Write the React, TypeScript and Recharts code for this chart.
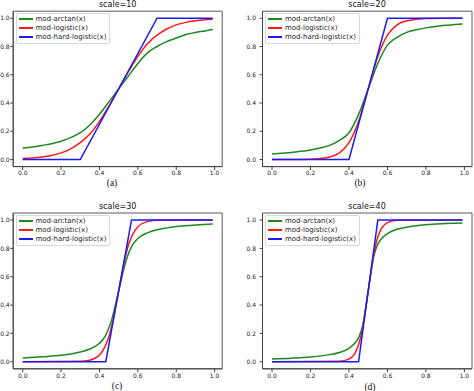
import { LineChart, Line, XAxis, YAxis, ReferenceArea } from 'recharts';

type Pt = [number, number];

// values, one set per panel (scale = 10, 20, 30, 40)
const arctan10: Pt[] = [[0, 0.08], [0.05, 0.088], [0.1, 0.1], [0.15, 0.112], [0.2, 0.13], [0.25, 0.155], [0.3, 0.19], [0.35, 0.245], [0.4, 0.32], [0.45, 0.41], [0.5, 0.5], [0.55, 0.59], [0.6, 0.68], [0.65, 0.755], [0.7, 0.8], [0.75, 0.835], [0.8, 0.86], [0.85, 0.885], [0.9, 0.9], [0.95, 0.91], [0.99, 0.92]];
const logistic10: Pt[] = [[0, 0.007], [0.05, 0.011], [0.1, 0.018], [0.15, 0.029], [0.2, 0.047], [0.25, 0.076], [0.3, 0.12], [0.35, 0.18], [0.4, 0.27], [0.45, 0.38], [0.5, 0.5], [0.55, 0.62], [0.6, 0.73], [0.65, 0.82], [0.7, 0.88], [0.75, 0.924], [0.8, 0.953], [0.85, 0.971], [0.9, 0.982], [0.95, 0.989], [0.99, 0.993]];
const hard10: Pt[] = [[0, 0], [0.3, 0], [0.7, 1], [0.99, 1]];

const arctan20: Pt[] = [[0, 0.04], [0.05, 0.045], [0.1, 0.05], [0.15, 0.058], [0.2, 0.068], [0.25, 0.082], [0.3, 0.1], [0.35, 0.135], [0.4, 0.19], [0.45, 0.32], [0.5, 0.5], [0.55, 0.68], [0.6, 0.81], [0.65, 0.865], [0.7, 0.9], [0.75, 0.918], [0.8, 0.932], [0.85, 0.942], [0.9, 0.95], [0.95, 0.955], [0.99, 0.96]];
const logistic20: Pt[] = [[0, 0], [0.1, 0.0003], [0.2, 0.002], [0.25, 0.007], [0.3, 0.018], [0.35, 0.047], [0.4, 0.12], [0.45, 0.27], [0.5, 0.5], [0.55, 0.73], [0.6, 0.88], [0.65, 0.953], [0.7, 0.982], [0.75, 0.993], [0.8, 0.998], [0.9, 1], [0.99, 1]];
const hard20: Pt[] = [[0, 0], [0.4, 0], [0.6, 1], [0.99, 1]];

const arctan30: Pt[] = [[0, 0.027], [0.1, 0.035], [0.2, 0.045], [0.25, 0.055], [0.3, 0.068], [0.35, 0.09], [0.4, 0.13], [0.43, 0.18], [0.46, 0.28], [0.5, 0.5], [0.54, 0.72], [0.57, 0.82], [0.6, 0.87], [0.65, 0.91], [0.7, 0.932], [0.75, 0.945], [0.8, 0.955], [0.9, 0.965], [0.99, 0.973]];
const logistic30: Pt[] = [[0, 0], [0.3, 0.003], [0.35, 0.011], [0.4, 0.047], [0.43, 0.11], [0.45, 0.18], [0.47, 0.29], [0.5, 0.5], [0.53, 0.71], [0.55, 0.82], [0.57, 0.89], [0.6, 0.953], [0.65, 0.989], [0.7, 0.998], [0.99, 1]];
const hard30: Pt[] = [[0, 0], [0.433, 0], [0.567, 1], [0.99, 1]];

const arctan40: Pt[] = [[0, 0.02], [0.1, 0.025], [0.2, 0.033], [0.3, 0.05], [0.35, 0.065], [0.4, 0.095], [0.43, 0.13], [0.45, 0.17], [0.47, 0.25], [0.5, 0.5], [0.53, 0.75], [0.55, 0.83], [0.57, 0.87], [0.6, 0.905], [0.65, 0.935], [0.7, 0.95], [0.8, 0.967], [0.9, 0.975], [0.99, 0.98]];
const logistic40: Pt[] = [[0, 0], [0.35, 0.003], [0.4, 0.018], [0.43, 0.057], [0.45, 0.12], [0.47, 0.23], [0.5, 0.5], [0.53, 0.77], [0.55, 0.88], [0.57, 0.943], [0.6, 0.982], [0.65, 0.998], [0.99, 1]];
const hard40: Pt[] = [[0, 0], [0.45, 0], [0.55, 1], [0.99, 1]];

const ticks = [0, 0.2, 0.4, 0.6, 0.8, 1.0];
const seriesNames = ['mod-arctan(x)', 'mod-logistic(x)', 'mod-hard-logistic(x)'];
const seriesColors = ['#1a8a1a', '#ff1a1a', '#1a1aff'];

const toRows = (pts: Pt[]) => pts.map(([x, y]) => ({ x, y }));

const FONT = 'DejaVu Sans, sans-serif';

interface PanelProps {
  left: number;
  top: number;
  width: number;
  height: number;
  margin: { top: number; right: number; bottom: number; left: number };
  yWidth: number;
  yTickMargin: number;
  title: string;
  titleAt: [number, number];
  caption: string;
  captionAt: [number, number];
  legendAt: [number, number];
  curves: Pt[][];
}

function Panel(p: PanelProps) {
  return (
    <div style={{ position: 'absolute', left: p.left, top: p.top, width: p.width, height: p.height }}>
      <LineChart width={p.width} height={p.height} margin={p.margin}>
        <XAxis
          type="number"
          dataKey="x"
          domain={[-0.0495, 1.0395]}
          ticks={ticks}
          allowDataOverflow
          tickFormatter={(v: number) => v.toFixed(1)}
          tickSize={3.5}
          tickMargin={1}
          height={20}
          stroke="#444"
          tick={{ fontSize: 6, fill: '#222', fontFamily: FONT }}
        />
        <YAxis
          type="number"
          dataKey="y"
          domain={[-0.05, 1.05]}
          ticks={ticks}
          allowDataOverflow
          tickFormatter={(v: number) => v.toFixed(1)}
          tickSize={3}
          tickMargin={p.yTickMargin}
          width={p.yWidth}
          stroke="#444"
          tick={{ fontSize: 6, fill: '#222', fontFamily: FONT }}
        />
        <ReferenceArea x1={-0.0495} x2={1.0395} y1={-0.05} y2={1.05} fill="none" stroke="#5a5a5a" strokeWidth={1} ifOverflow="visible" />
        {p.curves.map((c, i) => (
          <Line
            key={i}
            data={toRows(c)}
            dataKey="y"
            type={i === 2 ? 'linear' : 'monotone'}
            stroke={seriesColors[i]}
            strokeWidth={1.5}
            dot={false}
            activeDot={false}
            isAnimationActive={false}
          />
        ))}
      </LineChart>
      <div
        style={{
          position: 'absolute',
          left: p.legendAt[0],
          top: p.legendAt[1],
          border: '1px solid #d8d8d8',
          borderRadius: 2,
          background: 'rgba(255,255,255,0.85)',
          padding: '1px 3px 1px 2px',
          fontFamily: FONT,
          fontSize: 7,
          color: '#222',
        }}
      >
        {seriesNames.map((n, i) => (
          <div key={n} style={{ display: 'flex', alignItems: 'center', height: 9 }}>
            <div style={{ width: 14, height: 1.5, background: seriesColors[i], marginRight: 3 }} />
            <span>{n}</span>
          </div>
        ))}
      </div>
      <div
        style={{
          position: 'absolute',
          left: p.titleAt[0],
          top: p.titleAt[1],
          transform: 'translate(-50%, -50%)',
          fontFamily: FONT,
          fontSize: 8,
          lineHeight: 1,
          color: '#111',
          whiteSpace: 'nowrap',
        }}
      >
        {p.title}
      </div>
      <div
        style={{
          position: 'absolute',
          left: p.captionAt[0],
          top: p.captionAt[1],
          transform: 'translate(-50%, -50%)',
          fontFamily: 'Liberation Serif, serif',
          fontSize: 9.5,
          lineHeight: 1,
          color: '#111',
          whiteSpace: 'nowrap',
        }}
      >
        {p.caption}
      </div>
    </div>
  );
}

export default function App() {
  return (
    <div style={{ position: 'absolute', left: 0, top: 0, width: 474, height: 391, background: '#fff', overflow: 'hidden' }}>
      <Panel
        left={0} top={0} width={237} height={195}
        margin={{ top: 11.2, right: 14.8, bottom: 8.4, left: 0.2 }}
        yWidth={13} yTickMargin={0.5}
        title="scale=10" titleAt={[117.7, 5]}
        caption="(a)" captionAt={[112, 183.5]}
        legendAt={[15.5, 12.5]}
        curves={[arctan10, logistic10, hard10]}
      />
      <Panel
        left={237} top={0} width={237} height={195}
        margin={{ top: 11.2, right: 2, bottom: 8.4, left: 0.5 }}
        yWidth={25} yTickMargin={3.5}
        title="scale=20" titleAt={[130, 5]}
        caption="(b)" captionAt={[123, 183.5]}
        legendAt={[28, 12.5]}
        curves={[arctan20, logistic20, hard20]}
      />
      <Panel
        left={0} top={195} width={237} height={196}
        margin={{ top: 18, right: 14.8, bottom: 2.2, left: 0.2 }}
        yWidth={13} yTickMargin={0.5}
        title="scale=30" titleAt={[117.7, 12]}
        caption="(c)" captionAt={[117, 192]}
        legendAt={[15.5, 19.5]}
        curves={[arctan30, logistic30, hard30]}
      />
      <Panel
        left={237} top={195} width={237} height={196}
        margin={{ top: 18, right: 2, bottom: 2.2, left: 0.5 }}
        yWidth={25} yTickMargin={3.5}
        title="scale=40" titleAt={[130, 12]}
        caption="(d)" captionAt={[133, 193]}
        legendAt={[28, 19.5]}
        curves={[arctan40, logistic40, hard40]}
      />
    </div>
  );
}
